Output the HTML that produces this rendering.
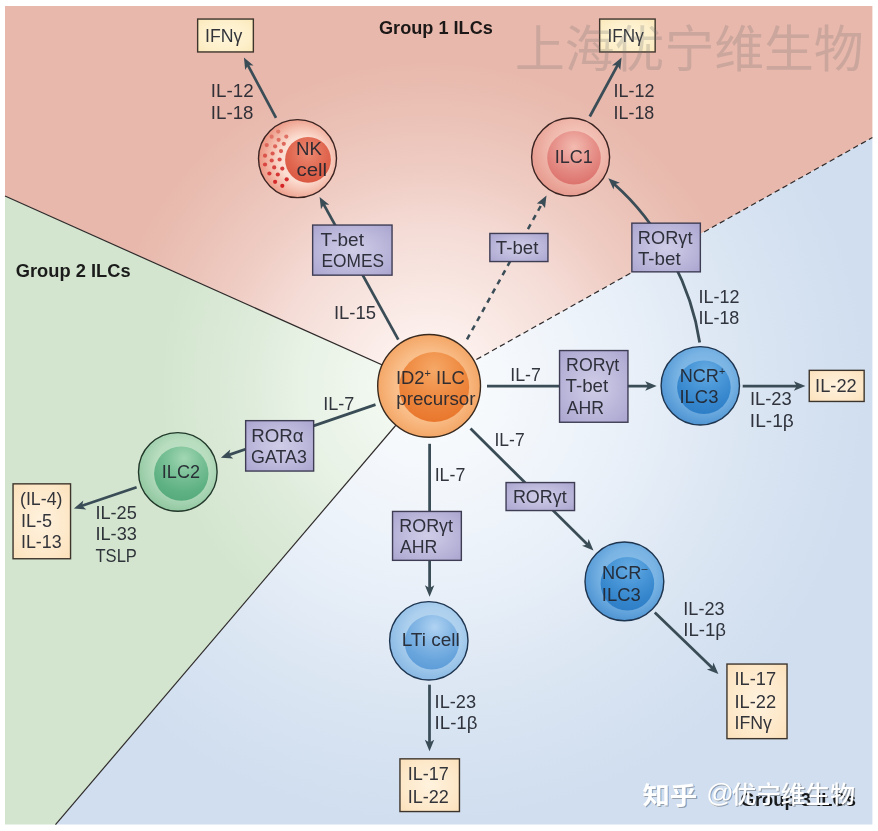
<!DOCTYPE html>
<html lang="zh"><head><meta charset="utf-8"><title>ILC lineages</title>
<style>html,body{margin:0;padding:0;background:#fff}svg{display:block}text{font-family:"Liberation Sans","Noto Sans CJK SC",sans-serif}</style></head><body>
<svg width="878" height="831" viewBox="0 0 878 831">
<defs>
<radialGradient id="gRed" cx="429.3" cy="386.0" r="470" gradientUnits="userSpaceOnUse"><stop offset="0.0" stop-color="#fef6f4"/><stop offset="0.104" stop-color="#fcf0ed"/><stop offset="0.172" stop-color="#faeae6"/><stop offset="0.252" stop-color="#f7e3de"/><stop offset="0.332" stop-color="#f5dcd6"/><stop offset="0.452" stop-color="#efcdc4"/><stop offset="0.582" stop-color="#ebc1b6"/><stop offset="0.692" stop-color="#e8b8ac"/><stop offset="1" stop-color="#e8b8ac"/></radialGradient>
<radialGradient id="gGreen" cx="429.3" cy="386.0" r="470" gradientUnits="userSpaceOnUse"><stop offset="0.0" stop-color="#f7fbf5"/><stop offset="0.0863" stop-color="#f3f9f1"/><stop offset="0.1427" stop-color="#f0f7ee"/><stop offset="0.2091" stop-color="#ecf4ea"/><stop offset="0.2755" stop-color="#e8f2e5"/><stop offset="0.3751" stop-color="#dfecdc"/><stop offset="0.4829" stop-color="#d8e8d4"/><stop offset="0.5742" stop-color="#d3e5cf"/><stop offset="1" stop-color="#d3e5cf"/></radialGradient>
<radialGradient id="gBlue" cx="429.3" cy="386.0" r="470" gradientUnits="userSpaceOnUse"><stop offset="0.0" stop-color="#fafcfe"/><stop offset="0.1405" stop-color="#f6f9fc"/><stop offset="0.2324" stop-color="#f2f6fb"/><stop offset="0.3405" stop-color="#edf3fa"/><stop offset="0.4486" stop-color="#e8eff8"/><stop offset="0.6107" stop-color="#dee8f4"/><stop offset="0.7863" stop-color="#d6e2f1"/><stop offset="0.9349" stop-color="#d0deef"/><stop offset="1" stop-color="#d0deef"/></radialGradient>
<radialGradient id="gPurple" cx="0.5" cy="0.5" r="0.75"><stop offset="0" stop-color="#d0cde8"/><stop offset="0.45" stop-color="#bfbbdd"/><stop offset="1" stop-color="#a7a2cd"/></radialGradient>
<radialGradient id="gYellow" cx="0.5" cy="0.5" r="0.75"><stop offset="0" stop-color="#fff6dc"/><stop offset="0.6" stop-color="#fdefc9"/><stop offset="1" stop-color="#fbe7b8"/></radialGradient>
<radialGradient id="gPeach" cx="0.5" cy="0.5" r="0.75"><stop offset="0" stop-color="#fff2de"/><stop offset="0.6" stop-color="#fde8c9"/><stop offset="1" stop-color="#fce0b9"/></radialGradient>
<radialGradient id="cNKo" cx="0.57" cy="0.51" r="0.58"><stop offset="0" stop-color="#fde4da"/><stop offset="0.5" stop-color="#fbddd1"/><stop offset="0.7" stop-color="#f5c0b0"/><stop offset="0.85" stop-color="#f0a896"/><stop offset="1" stop-color="#ec917e"/></radialGradient>
<radialGradient id="cNKn" cx="0.5" cy="0.35" r="0.7"><stop offset="0" stop-color="#ec8a72"/><stop offset="0.6" stop-color="#e0664f"/><stop offset="1" stop-color="#d9553f"/></radialGradient>
<radialGradient id="cI1o" cx="0.58" cy="0.4" r="0.65"><stop offset="0" stop-color="#f8d4ca"/><stop offset="0.55" stop-color="#f0b8ac"/><stop offset="1" stop-color="#e6978b"/></radialGradient>
<radialGradient id="cI1n" cx="0.5" cy="0.3" r="0.75"><stop offset="0" stop-color="#f3bbb0"/><stop offset="0.5" stop-color="#e6918a"/><stop offset="1" stop-color="#db6e68"/></radialGradient>
<radialGradient id="cI2o" cx="0.56" cy="0.42" r="0.62"><stop offset="0" stop-color="#c6e5cb"/><stop offset="0.55" stop-color="#b7dcbe"/><stop offset="0.8" stop-color="#a0d0ad"/><stop offset="1" stop-color="#8cc59c"/></radialGradient>
<radialGradient id="cI2n" cx="0.55" cy="0.22" r="0.85"><stop offset="0" stop-color="#a2d7b4"/><stop offset="0.35" stop-color="#7cc298"/><stop offset="0.7" stop-color="#60b285"/><stop offset="1" stop-color="#52a878"/></radialGradient>
<radialGradient id="cN3o" cx="0.56" cy="0.42" r="0.62"><stop offset="0" stop-color="#8fc2ea"/><stop offset="0.55" stop-color="#7ab4e4"/><stop offset="0.8" stop-color="#5fa1da"/><stop offset="1" stop-color="#4a90d0"/></radialGradient>
<radialGradient id="cN3n" cx="0.55" cy="0.2" r="0.9"><stop offset="0" stop-color="#66abe2"/><stop offset="0.35" stop-color="#4a97d8"/><stop offset="0.7" stop-color="#3485cc"/><stop offset="1" stop-color="#2b7bc4"/></radialGradient>
<radialGradient id="cLTo" cx="0.56" cy="0.42" r="0.62"><stop offset="0" stop-color="#c0daf2"/><stop offset="0.55" stop-color="#add0ee"/><stop offset="0.8" stop-color="#97c2e8"/><stop offset="1" stop-color="#85b6e3"/></radialGradient>
<radialGradient id="cLTn" cx="0.55" cy="0.22" r="0.85"><stop offset="0" stop-color="#b0d3f2"/><stop offset="0.35" stop-color="#88b9e6"/><stop offset="0.7" stop-color="#6aa6dd"/><stop offset="1" stop-color="#5a9ad8"/></radialGradient>
<radialGradient id="cIDo" cx="0.5" cy="0.5" r="0.52"><stop offset="0" stop-color="#fdd3ab"/><stop offset="0.65" stop-color="#f9bd88"/><stop offset="1" stop-color="#f3a463"/></radialGradient>
<radialGradient id="cIDn" cx="0.5" cy="0.25" r="0.8"><stop offset="0" stop-color="#f6a867"/><stop offset="0.5" stop-color="#ee8a41"/><stop offset="1" stop-color="#e8742a"/></radialGradient>
</defs>
<rect width="878" height="831" fill="#ffffff"/>
<polygon points="5,6 872.4,6 872.4,137.5 429.3,386.0 5,196" fill="url(#gRed)"/>
<polygon points="5,196 429.3,386.0 55.5,824.6 5,824.6" fill="url(#gGreen)"/>
<polygon points="429.3,386.0 872.4,137.5 872.4,824.6 55.5,824.6" fill="url(#gBlue)"/>
<line x1="5" y1="196" x2="429.3" y2="386.0" stroke="#2e2a2a" stroke-width="1.2"/>
<line x1="55.5" y1="824.6" x2="429.3" y2="386.0" stroke="#2e2a2a" stroke-width="1.2"/>
<line x1="429.3" y1="386.0" x2="872.4" y2="137.5" stroke="#2e2a2a" stroke-width="1.2" stroke-dasharray="5.5 3.5"/>
<line x1="398.3" y1="339.6" x2="323.0" y2="203.1" stroke="#3a4d57" stroke-width="2.75"/>
<polygon points="319.6,197.0 329.3,204.8 323.8,204.6 321.0,209.3" fill="#3a4d57"/>
<line x1="276.0" y1="117.8" x2="247.2" y2="63.8" stroke="#3a4d57" stroke-width="2.75"/>
<polygon points="243.9,57.6 253.5,65.5 248.0,65.3 245.2,70.0" fill="#3a4d57"/>
<line x1="467.0" y1="339.4" x2="543.1" y2="201.7" stroke="#3a4d57" stroke-width="2.5" stroke-dasharray="5.4 5.1"/>
<polygon points="546.5,195.6 545.0,207.9 541.8,204.1 536.8,203.4" fill="#3a4d57"/>
<line x1="589.8" y1="116.5" x2="618.3" y2="63.8" stroke="#3a4d57" stroke-width="2.75"/>
<polygon points="621.6,57.6 620.3,70.0 617.5,65.3 612.0,65.5" fill="#3a4d57"/>
<path d="M 699.7,342.5 C 692,290 662,226 614,184" fill="none" stroke="#3a4d57" stroke-width="2.8"/>
<polygon points="608.3,178.3 619.9,182.7 614.6,184.3 613.5,189.6" fill="#3a4d57"/>
<line x1="487.0" y1="386.0" x2="649.7" y2="386.0" stroke="#3a4d57" stroke-width="2.75"/>
<polygon points="656.7,386.0 645.2,390.7 648.0,386.0 645.2,381.3" fill="#3a4d57"/>
<line x1="742.7" y1="386.0" x2="798.4" y2="386.0" stroke="#3a4d57" stroke-width="2.75"/>
<polygon points="805.4,386.0 793.9,390.7 796.7,386.0 793.9,381.3" fill="#3a4d57"/>
<line x1="470.5" y1="428.5" x2="588.5" y2="545.6" stroke="#3a4d57" stroke-width="2.75"/>
<polygon points="593.5,550.5 582.0,545.7 587.3,544.4 588.6,539.1" fill="#3a4d57"/>
<line x1="654.8" y1="612.4" x2="713.4" y2="669.1" stroke="#3a4d57" stroke-width="2.75"/>
<polygon points="718.4,674.0 706.9,669.4 712.2,667.9 713.4,662.6" fill="#3a4d57"/>
<line x1="429.6" y1="443.8" x2="429.6" y2="589.7" stroke="#3a4d57" stroke-width="2.75"/>
<polygon points="429.6,596.7 424.9,585.2 429.6,588.0 434.3,585.2" fill="#3a4d57"/>
<line x1="429.5" y1="684.7" x2="429.5" y2="744.2" stroke="#3a4d57" stroke-width="2.75"/>
<polygon points="429.5,751.2 424.8,739.7 429.5,742.5 434.2,739.7" fill="#3a4d57"/>
<line x1="375.5" y1="404.6" x2="227.5" y2="455.4" stroke="#3a4d57" stroke-width="2.75"/>
<polygon points="220.9,457.7 230.2,449.5 229.1,454.9 233.3,458.4" fill="#3a4d57"/>
<line x1="136.6" y1="487.3" x2="80.5" y2="506.3" stroke="#3a4d57" stroke-width="2.75"/>
<polygon points="73.9,508.6 83.3,500.5 82.1,505.8 86.3,509.4" fill="#3a4d57"/>
<rect x="197.65" y="19.05" width="55.7" height="32.9" fill="url(#gYellow)" stroke="#3d352c" stroke-width="1.4"/>
<rect x="599.65" y="19.05" width="55.5" height="32.9" fill="url(#gYellow)" stroke="#3d352c" stroke-width="1.4"/>
<rect x="809.25" y="370.35" width="54.9" height="31.1" fill="url(#gPeach)" stroke="#3d352c" stroke-width="1.4"/>
<rect x="13.05" y="483.85" width="57.5" height="74.9" fill="url(#gPeach)" stroke="#3d352c" stroke-width="1.4"/>
<rect x="399.95" y="758.85" width="59.5" height="52.7" fill="url(#gPeach)" stroke="#3d352c" stroke-width="1.4"/>
<rect x="726.95" y="664.05" width="60.1" height="74.6" fill="url(#gPeach)" stroke="#3d352c" stroke-width="1.4"/>
<rect x="312.65" y="225.05" width="79.4" height="50.1" fill="url(#gPurple)" stroke="#3e3d54" stroke-width="1.4"/>
<rect x="489.85" y="233.45" width="58.1" height="28.1" fill="url(#gPurple)" stroke="#3e3d54" stroke-width="1.4"/>
<rect x="631.85" y="223.15" width="68.5" height="48.7" fill="url(#gPurple)" stroke="#3e3d54" stroke-width="1.4"/>
<rect x="559.55" y="350.55" width="68.4" height="71.7" fill="url(#gPurple)" stroke="#3e3d54" stroke-width="1.4"/>
<rect x="506.05" y="482.55" width="68.5" height="28.0" fill="url(#gPurple)" stroke="#3e3d54" stroke-width="1.4"/>
<rect x="245.65" y="420.65" width="68.0" height="50.4" fill="url(#gPurple)" stroke="#3e3d54" stroke-width="1.4"/>
<rect x="392.55" y="511.45" width="68.8" height="48.9" fill="url(#gPurple)" stroke="#3e3d54" stroke-width="1.4"/>
<circle cx="297.5" cy="158.6" r="39.0" fill="url(#cNKo)" stroke="#3a2422" stroke-width="1.4"/>
<circle cx="308" cy="159.8" r="22.9" fill="url(#cNKn)"/>
<circle cx="278.2" cy="131.6" r="2.1" fill="rgb(225,123,107)"/>
<circle cx="271.6" cy="136.7" r="2.1" fill="rgb(224,115,101)"/>
<circle cx="286.3" cy="136.6" r="2.1" fill="rgb(224,115,101)"/>
<circle cx="278.6" cy="139.8" r="2.1" fill="rgb(223,110,97)"/>
<circle cx="266.7" cy="145.1" r="2.1" fill="rgb(222,101,90)"/>
<circle cx="283.8" cy="143.8" r="2.1" fill="rgb(222,103,91)"/>
<circle cx="275.1" cy="146.3" r="2.1" fill="rgb(222,99,88)"/>
<circle cx="281.0" cy="151.1" r="2.1" fill="rgb(220,92,82)"/>
<circle cx="265.0" cy="155.7" r="2.1" fill="rgb(219,84,76)"/>
<circle cx="272.6" cy="153.5" r="2.1" fill="rgb(220,88,79)"/>
<circle cx="279.6" cy="159.5" r="2.1" fill="rgb(218,78,71)"/>
<circle cx="271.7" cy="160.5" r="2.1" fill="rgb(218,76,70)"/>
<circle cx="265.0" cy="164.5" r="2.1" fill="rgb(217,70,65)"/>
<circle cx="274.2" cy="167.4" r="2.1" fill="rgb(216,65,61)"/>
<circle cx="282.3" cy="168.6" r="2.1" fill="rgb(216,63,60)"/>
<circle cx="269.4" cy="173.5" r="2.1" fill="rgb(215,55,53)"/>
<circle cx="277.8" cy="174.5" r="2.1" fill="rgb(214,54,52)"/>
<circle cx="286.7" cy="179.3" r="2.1" fill="rgb(213,46,46)"/>
<circle cx="275.1" cy="181.8" r="2.1" fill="rgb(213,42,43)"/>
<circle cx="282.3" cy="185.8" r="2.1" fill="rgb(212,36,38)"/>
<circle cx="570.6" cy="157" r="39.0" fill="url(#cI1o)" stroke="#3a2422" stroke-width="1.4"/>
<circle cx="574" cy="157.8" r="26.8" fill="url(#cI1n)"/>
<circle cx="177.8" cy="471.9" r="39.3" fill="url(#cI2o)" stroke="#22382a" stroke-width="1.4"/>
<circle cx="181.3" cy="473.6" r="27.2" fill="url(#cI2n)"/>
<circle cx="700.3" cy="385.8" r="39.2" fill="url(#cN3o)" stroke="#1e3550" stroke-width="1.4"/>
<circle cx="703.9" cy="387.3" r="26.8" fill="url(#cN3n)"/>
<circle cx="624.4" cy="581.4" r="39.4" fill="url(#cN3o)" stroke="#1e3550" stroke-width="1.4"/>
<circle cx="627.4" cy="583.7" r="26.8" fill="url(#cN3n)"/>
<circle cx="428.8" cy="640.8" r="39.2" fill="url(#cLTo)" stroke="#1e3550" stroke-width="1.4"/>
<circle cx="431.9" cy="642.3" r="27.2" fill="url(#cLTn)"/>
<circle cx="429.1" cy="385.9" r="51.4" fill="url(#cIDo)" stroke="#3a2a1e" stroke-width="1.4"/>
<circle cx="434.2" cy="387" r="35" fill="url(#cIDn)"/>
<g opacity="0.93">
<text transform="translate(204.97,42) scale(0.9512,1)" font-size="18.6" font-weight="400" fill="#23262f" xml:space="preserve">IFNγ</text>
<text transform="translate(210.87,97.2) scale(1.0084,1)" font-size="18.6" font-weight="400" fill="#23262f" xml:space="preserve">IL-12</text>
<text transform="translate(210.87,118.5) scale(1.0060,1)" font-size="18.6" font-weight="400" fill="#23262f" xml:space="preserve">IL-18</text>
<text transform="translate(296.03,155.1) scale(0.9998,1)" font-size="18.6" font-weight="400" fill="#23262f" xml:space="preserve">NK</text>
<text transform="translate(296.45,176) scale(1.0994,1)" font-size="18.6" font-weight="400" fill="#23262f" xml:space="preserve">cell</text>
<text transform="translate(320.62,245.7) scale(1.0226,1)" font-size="18.6" font-weight="400" fill="#23262f" xml:space="preserve">T-bet</text>
<text transform="translate(321.43,266.5) scale(0.9322,1)" font-size="18.6" font-weight="400" fill="#23262f" xml:space="preserve">EOMES</text>
<text transform="translate(333.90,318.6) scale(0.9926,1)" font-size="18.6" font-weight="400" fill="#23262f" xml:space="preserve">IL-15</text>
<text transform="translate(395.90,383.5) scale(0.9919,1)" font-size="18.6" font-weight="400" fill="#23262f" xml:space="preserve">ID2<tspan font-size="11" dy="-6.5">+</tspan><tspan dy="6.5">​</tspan> ILC</text>
<text transform="translate(396.29,404.5) scale(1.0081,1)" font-size="18.6" font-weight="400" fill="#23262f" xml:space="preserve">precursor</text>
<text transform="translate(378.99,33.6) scale(0.9756,1)" font-size="18.6" font-weight="700" fill="#0c0c0c" xml:space="preserve">Group 1 ILCs</text>
<text transform="translate(607.62,42) scale(0.9190,1)" font-size="18.6" font-weight="400" fill="#23262f" xml:space="preserve">IFNγ</text>
<text transform="translate(613.55,97.2) scale(0.9632,1)" font-size="18.6" font-weight="400" fill="#23262f" xml:space="preserve">IL-12</text>
<text transform="translate(613.55,118.5) scale(0.9608,1)" font-size="18.6" font-weight="400" fill="#23262f" xml:space="preserve">IL-18</text>
<text transform="translate(554.63,162.9) scale(0.9702,1)" font-size="18.6" font-weight="400" fill="#23262f" xml:space="preserve">ILC1</text>
<text transform="translate(495.83,253.9) scale(1.0035,1)" font-size="18.6" font-weight="400" fill="#23262f" xml:space="preserve">T-bet</text>
<text transform="translate(637.86,244) scale(0.9787,1)" font-size="18.6" font-weight="400" fill="#23262f" xml:space="preserve">RORγt</text>
<text transform="translate(637.93,264.8) scale(1.0082,1)" font-size="18.6" font-weight="400" fill="#23262f" xml:space="preserve">T-bet</text>
<text transform="translate(698.44,303.4) scale(0.9682,1)" font-size="18.6" font-weight="400" fill="#23262f" xml:space="preserve">IL-12</text>
<text transform="translate(698.44,324.2) scale(0.9658,1)" font-size="18.6" font-weight="400" fill="#23262f" xml:space="preserve">IL-18</text>
<text transform="translate(510.26,380.9) scale(0.9570,1)" font-size="18.6" font-weight="400" fill="#23262f" xml:space="preserve">IL-7</text>
<text transform="translate(566.10,370.6) scale(0.9528,1)" font-size="18.6" font-weight="400" fill="#23262f" xml:space="preserve">RORγt</text>
<text transform="translate(565.53,392.2) scale(1.0082,1)" font-size="18.6" font-weight="400" fill="#23262f" xml:space="preserve">T-bet</text>
<text transform="translate(566.80,413.5) scale(0.9497,1)" font-size="18.6" font-weight="400" fill="#23262f" xml:space="preserve">AHR</text>
<text transform="translate(494.49,445.8) scale(0.9401,1)" font-size="18.6" font-weight="400" fill="#23262f" xml:space="preserve">IL-7</text>
<text transform="translate(512.88,502.9) scale(0.9657,1)" font-size="18.6" font-weight="400" fill="#23262f" xml:space="preserve">RORγt</text>
<text transform="translate(679.67,381.9) scale(0.9735,1)" font-size="18.6" font-weight="400" fill="#23262f" xml:space="preserve">NCR<tspan font-size="11" dy="-6.5">+</tspan><tspan dy="6.5">​</tspan></text>
<text transform="translate(679.50,403.4) scale(0.9902,1)" font-size="18.6" font-weight="400" fill="#23262f" xml:space="preserve">ILC3</text>
<text transform="translate(749.90,405.2) scale(0.9884,1)" font-size="18.6" font-weight="400" fill="#23262f" xml:space="preserve">IL-23</text>
<text transform="translate(749.83,426.5) scale(1.0282,1)" font-size="18.6" font-weight="400" fill="#23262f" xml:space="preserve">IL-1β</text>
<text transform="translate(815.11,391.6) scale(0.9833,1)" font-size="18.6" font-weight="400" fill="#23262f" xml:space="preserve">IL-22</text>
<text transform="translate(20.01,505.3) scale(0.9546,1)" font-size="18.6" font-weight="400" fill="#23262f" xml:space="preserve">(IL-4)</text>
<text transform="translate(20.93,527.4) scale(0.9708,1)" font-size="18.6" font-weight="400" fill="#23262f" xml:space="preserve">IL-5</text>
<text transform="translate(20.95,548.4) scale(0.9608,1)" font-size="18.6" font-weight="400" fill="#23262f" xml:space="preserve">IL-13</text>
<text transform="translate(161.83,478.2) scale(0.9710,1)" font-size="18.6" font-weight="400" fill="#23262f" xml:space="preserve">ILC2</text>
<text transform="translate(95.42,519.1) scale(0.9776,1)" font-size="18.6" font-weight="400" fill="#23262f" xml:space="preserve">IL-25</text>
<text transform="translate(95.42,540.4) scale(0.9784,1)" font-size="18.6" font-weight="400" fill="#23262f" xml:space="preserve">IL-33</text>
<text transform="translate(95.48,561.7) scale(0.8910,1)" font-size="18.6" font-weight="400" fill="#23262f" xml:space="preserve">TSLP</text>
<text transform="translate(251.22,441.5) scale(1.0064,1)" font-size="18.6" font-weight="400" fill="#23262f" xml:space="preserve">RORα</text>
<text transform="translate(251.03,463.3) scale(0.9606,1)" font-size="18.6" font-weight="400" fill="#23262f" xml:space="preserve">GATA3</text>
<text transform="translate(323.13,410.1) scale(0.9705,1)" font-size="18.6" font-weight="400" fill="#23262f" xml:space="preserve">IL-7</text>
<text transform="translate(434.66,481.4) scale(0.9570,1)" font-size="18.6" font-weight="400" fill="#23262f" xml:space="preserve">IL-7</text>
<text transform="translate(399.28,532) scale(0.9639,1)" font-size="18.6" font-weight="400" fill="#23262f" xml:space="preserve">RORγt</text>
<text transform="translate(399.90,553.3) scale(0.9523,1)" font-size="18.6" font-weight="400" fill="#23262f" xml:space="preserve">AHR</text>
<text transform="translate(401.69,645.9) scale(1.0235,1)" font-size="18.6" font-weight="400" fill="#23262f" xml:space="preserve">LTi cell</text>
<text transform="translate(434.62,707.8) scale(0.9784,1)" font-size="18.6" font-weight="400" fill="#23262f" xml:space="preserve">IL-23</text>
<text transform="translate(434.58,729.1) scale(1.0033,1)" font-size="18.6" font-weight="400" fill="#23262f" xml:space="preserve">IL-1β</text>
<text transform="translate(407.63,780.1) scale(0.9707,1)" font-size="18.6" font-weight="400" fill="#23262f" xml:space="preserve">IL-17</text>
<text transform="translate(407.63,802.9) scale(0.9707,1)" font-size="18.6" font-weight="400" fill="#23262f" xml:space="preserve">IL-22</text>
<text transform="translate(601.96,578.6) scale(0.9807,1)" font-size="18.6" font-weight="400" fill="#23262f" xml:space="preserve">NCR<tspan font-size="11" dy="-6.5">–</tspan><tspan dy="6.5">​</tspan></text>
<text transform="translate(601.80,600.5) scale(0.9902,1)" font-size="18.6" font-weight="400" fill="#23262f" xml:space="preserve">ILC3</text>
<text transform="translate(683.33,614.8) scale(0.9733,1)" font-size="18.6" font-weight="400" fill="#23262f" xml:space="preserve">IL-23</text>
<text transform="translate(683.28,636.4) scale(1.0008,1)" font-size="18.6" font-weight="400" fill="#23262f" xml:space="preserve">IL-1β</text>
<text transform="translate(734.51,685.2) scale(0.9833,1)" font-size="18.6" font-weight="400" fill="#23262f" xml:space="preserve">IL-17</text>
<text transform="translate(734.51,708) scale(0.9833,1)" font-size="18.6" font-weight="400" fill="#23262f" xml:space="preserve">IL-22</text>
<text transform="translate(734.56,728.8) scale(0.9539,1)" font-size="18.6" font-weight="400" fill="#23262f" xml:space="preserve">IFNγ</text>
<text transform="translate(15.78,277.4) scale(0.9835,1)" font-size="18.6" font-weight="700" fill="#0c0c0c" xml:space="preserve">Group 2 ILCs</text>
<text transform="translate(740.58,806.1) scale(0.9887,1)" font-size="18.6" font-weight="700" fill="#0c0c0c" xml:space="preserve">Group 3 ILCs</text>
</g>
<text x="515" y="66.5" font-size="49.8" fill="#6e6e6e" fill-opacity="0.24" style="font-family:'Noto Sans CJK SC',sans-serif">上海优宁维生物</text>
<g style="font-family:'Liberation Sans','Noto Sans CJK SC',sans-serif" font-size="24.5" font-weight="500">
<text transform="translate(643.50,805.40) scale(1.142,1)" font-size="24" font-weight="700" fill="#000" fill-opacity="0.3">知乎</text>
<text transform="translate(707.30,802.60) scale(1.066,1)" font-size="25.5" font-weight="500" fill="#000" fill-opacity="0.3">@</text>
<text transform="translate(732.50,803.70) scale(1.062,1)" font-size="23.3" font-weight="500" fill="#000" fill-opacity="0.3">优宁维生物</text>
<text transform="translate(642.40,804.30) scale(1.142,1)" font-size="24" font-weight="700" fill="#ffffff" fill-opacity="1">知乎</text>
<text transform="translate(706.20,801.50) scale(1.066,1)" font-size="25.5" font-weight="500" fill="#ffffff" fill-opacity="1">@</text>
<text transform="translate(731.40,802.60) scale(1.062,1)" font-size="23.3" font-weight="500" fill="#ffffff" fill-opacity="1">优宁维生物</text>
</g>
</svg></body></html>
